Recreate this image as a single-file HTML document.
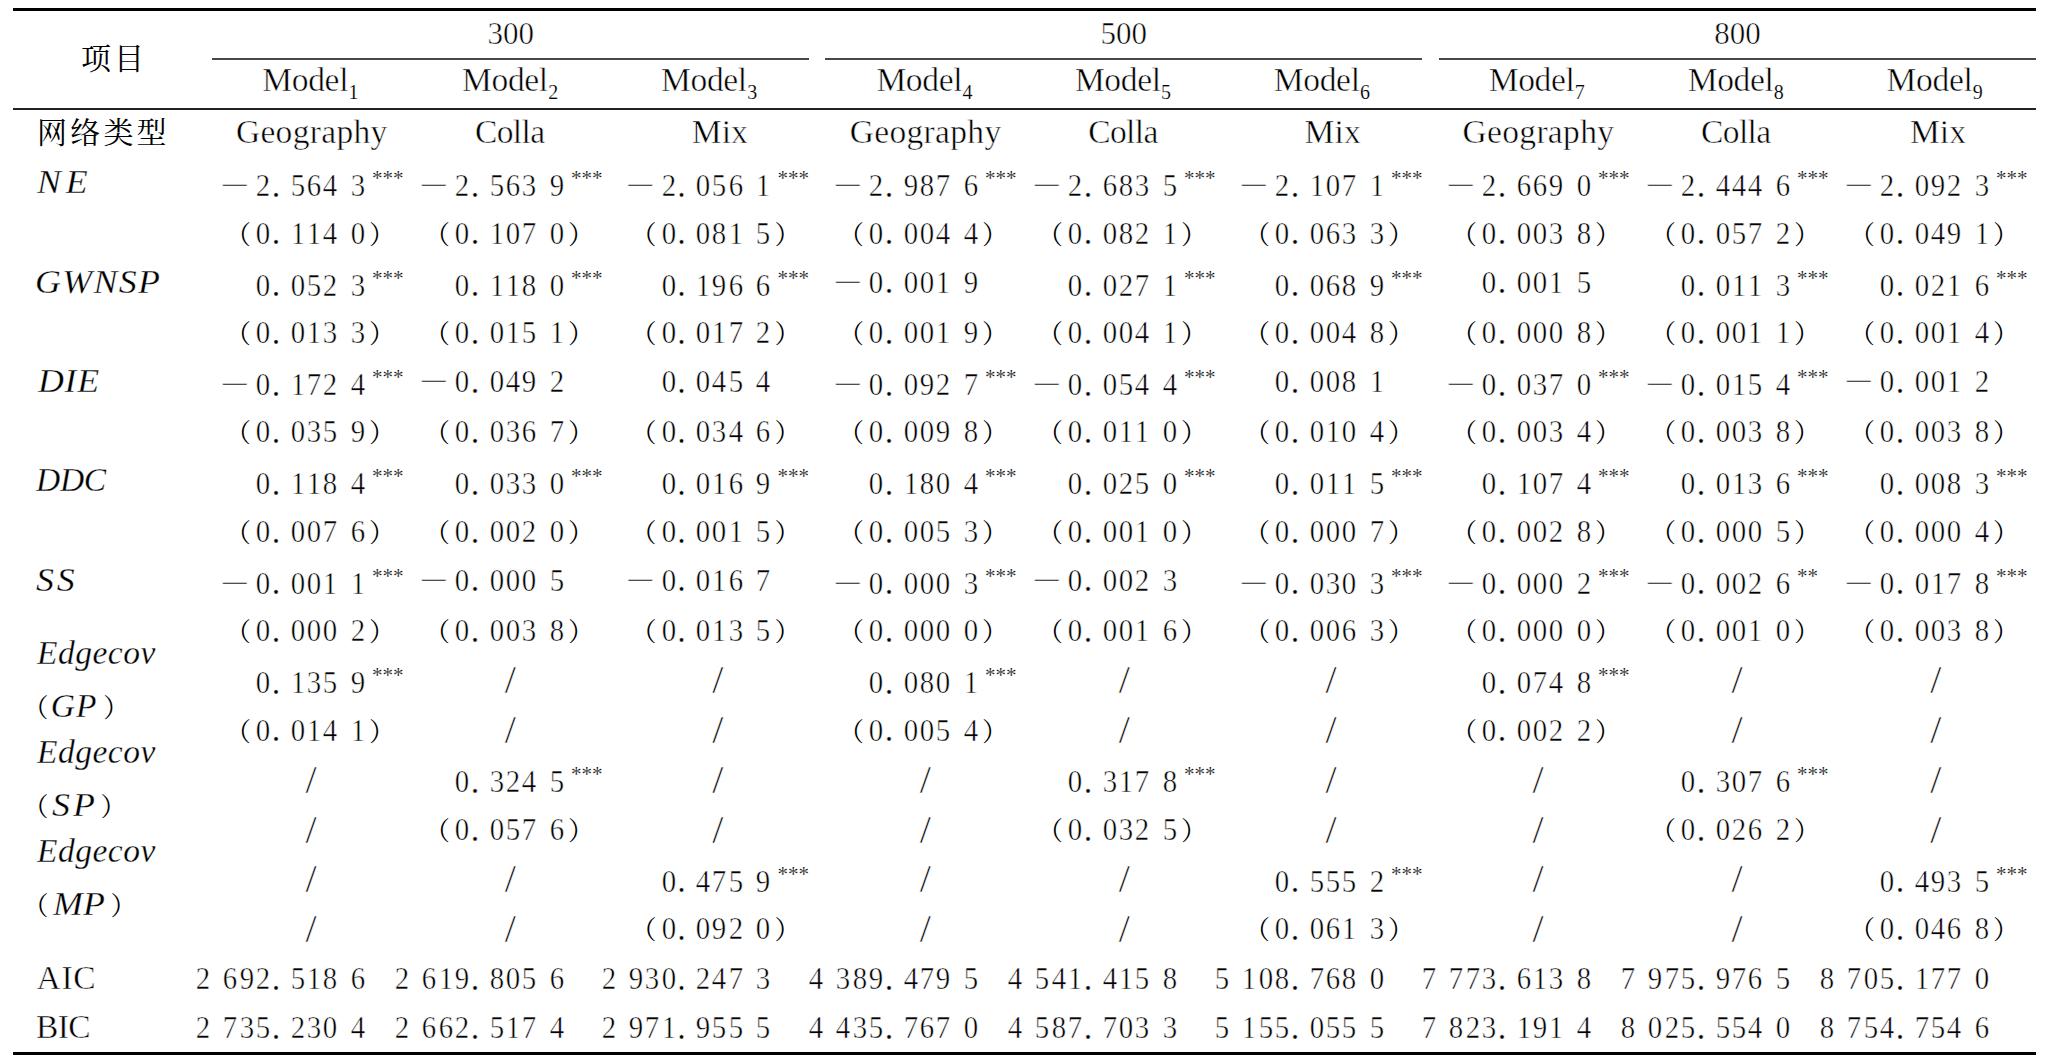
<!DOCTYPE html>
<html lang="zh"><head><meta charset="utf-8"><title>table</title><style>
*{margin:0;padding:0}
html,body{width:2048px;height:1056px;background:#fff;overflow:hidden}
body{position:relative;color:#000}
.r{position:absolute}
.t{position:absolute;font:32px/40px 'Liberation Serif','Noto Serif CJK SC',serif;white-space:nowrap;-webkit-text-stroke:0.5px #fff}
.cj{-webkit-text-stroke:0}
.w{font-size:33.5px}
.t i{-webkit-text-stroke:0.3px #fff;font-size:33.5px}
.st,.sb{-webkit-text-stroke:0.15px #fff}
.op,.cp,.op2{-webkit-text-stroke:0}
.t i{font-style:italic;display:inline-block;transform-origin:0 0}
.cj{font:30px/0 'Noto Serif CJK SC',serif;letter-spacing:2px}
.sb{font-size:20px;line-height:0;vertical-align:-8px;margin-left:0.3px}
.n{letter-spacing:0.4px}
.n .ip{display:inline-block;width:120px;text-align:right}
.n .p{letter-spacing:9px;font-size:36px;vertical-align:-0.7px}
.n b{display:inline-block;font-weight:normal;transform:scaleX(0.9)}
.n .g{letter-spacing:2.8px}
.n .m{font:32px/0 'Noto Serif CJK SC',serif;letter-spacing:4.3px;vertical-align:-1px}
.n .op{font:26px/0 'Noto Serif CJK SC',serif;letter-spacing:4.1px}
.n .cp{font:26px/0 'Noto Serif CJK SC',serif;margin-left:3px}
.n .st{font-size:21px;line-height:0;vertical-align:11px;margin-left:6px;letter-spacing:0}
.op2{font:26px/0 'Noto Serif CJK SC',serif}
.sl{font-size:40px;line-height:0}
</style></head><body>
<div class="r" style="left:13px;top:8px;width:2023px;height:3px;background:#000"></div>
<div class="r" style="left:212px;top:58px;width:597px;height:2px;background:#484848"></div>
<div class="r" style="left:825px;top:58px;width:597px;height:2px;background:#484848"></div>
<div class="r" style="left:1439px;top:58px;width:597px;height:2px;background:#484848"></div>
<div class="r" style="left:13px;top:108px;width:2023px;height:2px;background:#222"></div>
<div class="r" style="left:13px;top:1052px;width:2023px;height:3px;background:#000"></div>
<div class="t" style="left:81.0px;top:38.2px;"><span class="cj" style="letter-spacing:3px">项目</span></div>
<div class="t" style="left:487.4px;top:13.0px;"><span style="font-size:31px">300</span></div>
<div class="t" style="left:1100.5px;top:13.0px;"><span style="font-size:31px">500</span></div>
<div class="t" style="left:1714.3px;top:13.0px;"><span style="font-size:31px">800</span></div>
<div class="t" style="left:262.3px;top:59.9px;"><span class="w" style="letter-spacing:-0.33px">Model</span><span class="sb">1</span></div>
<div class="t" style="left:462.0px;top:59.9px;"><span class="w" style="letter-spacing:-0.33px">Model</span><span class="sb">2</span></div>
<div class="t" style="left:661.0px;top:59.9px;"><span class="w" style="letter-spacing:-0.33px">Model</span><span class="sb">3</span></div>
<div class="t" style="left:876.4px;top:59.9px;"><span class="w" style="letter-spacing:-0.33px">Model</span><span class="sb">4</span></div>
<div class="t" style="left:1074.9px;top:59.9px;"><span class="w" style="letter-spacing:-0.33px">Model</span><span class="sb">5</span></div>
<div class="t" style="left:1273.8px;top:59.9px;"><span class="w" style="letter-spacing:-0.33px">Model</span><span class="sb">6</span></div>
<div class="t" style="left:1488.7px;top:59.9px;"><span class="w" style="letter-spacing:-0.33px">Model</span><span class="sb">7</span></div>
<div class="t" style="left:1687.7px;top:59.9px;"><span class="w" style="letter-spacing:-0.33px">Model</span><span class="sb">8</span></div>
<div class="t" style="left:1886.6px;top:59.9px;"><span class="w" style="letter-spacing:-0.33px">Model</span><span class="sb">9</span></div>
<div class="t" style="left:37.0px;top:112.2px;"><span class="cj" style="letter-spacing:3.2px">网络类型</span></div>
<div class="t" style="left:235.9px;top:112.2px;"><span class="w" style="letter-spacing:0.33px">Geography</span></div>
<div class="t" style="left:849.7px;top:112.2px;"><span class="w" style="letter-spacing:0.33px">Geography</span></div>
<div class="t" style="left:1462.5px;top:112.2px;"><span class="w" style="letter-spacing:0.33px">Geography</span></div>
<div class="t" style="left:474.9px;top:112.2px;"><span class="w" style="letter-spacing:-0.6px">Colla</span></div>
<div class="t" style="left:1088.2px;top:112.2px;"><span class="w" style="letter-spacing:-0.6px">Colla</span></div>
<div class="t" style="left:1701.0px;top:112.2px;"><span class="w" style="letter-spacing:-0.6px">Colla</span></div>
<div class="t" style="left:691.8px;top:112.2px;"><span class="w" style="letter-spacing:0.1px">Mix</span></div>
<div class="t" style="left:1304.6px;top:112.2px;"><span class="w" style="letter-spacing:0.1px">Mix</span></div>
<div class="t" style="left:1909.9px;top:112.2px;"><span class="w" style="letter-spacing:0.1px">Mix</span></div>
<div class="t" style="left:36.5px;top:162.1px;"><i style="letter-spacing:4.5px;transform:scaleX(1.07)">NE</i></div>
<div class="t n" style="left:151.5px;top:165.0px;"><span class="ip"><span class="m">－</span><b>2</b></span><span class="p">.</span><b>5</b><b>6</b><b>4</b><span class="g"> </span><b>3</b><span class="st">***</span></div>
<div class="t n" style="left:151.5px;top:212.3px;"><span class="ip"><span class="op">（</span><b>0</b></span><span class="p">.</span><b>1</b><b>1</b><b>4</b><span class="g"> </span><b>0</b><span class="cp">）</span></div>
<div class="t n" style="left:350.5px;top:165.0px;"><span class="ip"><span class="m">－</span><b>2</b></span><span class="p">.</span><b>5</b><b>6</b><b>3</b><span class="g"> </span><b>9</b><span class="st">***</span></div>
<div class="t n" style="left:350.5px;top:212.3px;"><span class="ip"><span class="op">（</span><b>0</b></span><span class="p">.</span><b>1</b><b>0</b><b>7</b><span class="g"> </span><b>0</b><span class="cp">）</span></div>
<div class="t n" style="left:557.0px;top:165.0px;"><span class="ip"><span class="m">－</span><b>2</b></span><span class="p">.</span><b>0</b><b>5</b><b>6</b><span class="g"> </span><b>1</b><span class="st">***</span></div>
<div class="t n" style="left:557.0px;top:212.3px;"><span class="ip"><span class="op">（</span><b>0</b></span><span class="p">.</span><b>0</b><b>8</b><b>1</b><span class="g"> </span><b>5</b><span class="cp">）</span></div>
<div class="t n" style="left:764.5px;top:165.0px;"><span class="ip"><span class="m">－</span><b>2</b></span><span class="p">.</span><b>9</b><b>8</b><b>7</b><span class="g"> </span><b>6</b><span class="st">***</span></div>
<div class="t n" style="left:764.5px;top:212.3px;"><span class="ip"><span class="op">（</span><b>0</b></span><span class="p">.</span><b>0</b><b>0</b><b>4</b><span class="g"> </span><b>4</b><span class="cp">）</span></div>
<div class="t n" style="left:963.5px;top:165.0px;"><span class="ip"><span class="m">－</span><b>2</b></span><span class="p">.</span><b>6</b><b>8</b><b>3</b><span class="g"> </span><b>5</b><span class="st">***</span></div>
<div class="t n" style="left:963.5px;top:212.3px;"><span class="ip"><span class="op">（</span><b>0</b></span><span class="p">.</span><b>0</b><b>8</b><b>2</b><span class="g"> </span><b>1</b><span class="cp">）</span></div>
<div class="t n" style="left:1170.5px;top:165.0px;"><span class="ip"><span class="m">－</span><b>2</b></span><span class="p">.</span><b>1</b><b>0</b><b>7</b><span class="g"> </span><b>1</b><span class="st">***</span></div>
<div class="t n" style="left:1170.5px;top:212.3px;"><span class="ip"><span class="op">（</span><b>0</b></span><span class="p">.</span><b>0</b><b>6</b><b>3</b><span class="g"> </span><b>3</b><span class="cp">）</span></div>
<div class="t n" style="left:1377.5px;top:165.0px;"><span class="ip"><span class="m">－</span><b>2</b></span><span class="p">.</span><b>6</b><b>6</b><b>9</b><span class="g"> </span><b>0</b><span class="st">***</span></div>
<div class="t n" style="left:1377.5px;top:212.3px;"><span class="ip"><span class="op">（</span><b>0</b></span><span class="p">.</span><b>0</b><b>0</b><b>3</b><span class="g"> </span><b>8</b><span class="cp">）</span></div>
<div class="t n" style="left:1576.5px;top:165.0px;"><span class="ip"><span class="m">－</span><b>2</b></span><span class="p">.</span><b>4</b><b>4</b><b>4</b><span class="g"> </span><b>6</b><span class="st">***</span></div>
<div class="t n" style="left:1576.5px;top:212.3px;"><span class="ip"><span class="op">（</span><b>0</b></span><span class="p">.</span><b>0</b><b>5</b><b>7</b><span class="g"> </span><b>2</b><span class="cp">）</span></div>
<div class="t n" style="left:1775.5px;top:165.0px;"><span class="ip"><span class="m">－</span><b>2</b></span><span class="p">.</span><b>0</b><b>9</b><b>2</b><span class="g"> </span><b>3</b><span class="st">***</span></div>
<div class="t n" style="left:1775.5px;top:212.3px;"><span class="ip"><span class="op">（</span><b>0</b></span><span class="p">.</span><b>0</b><b>4</b><b>9</b><span class="g"> </span><b>1</b><span class="cp">）</span></div>
<div class="t" style="left:34.5px;top:261.5px;"><i style="letter-spacing:1.28px;transform:scaleX(1.07)">GWNSP</i></div>
<div class="t n" style="left:151.5px;top:264.3px;"><span class="ip"><b>0</b></span><span class="p">.</span><b>0</b><b>5</b><b>2</b><span class="g"> </span><b>3</b><span class="st">***</span></div>
<div class="t n" style="left:151.5px;top:311.7px;"><span class="ip"><span class="op">（</span><b>0</b></span><span class="p">.</span><b>0</b><b>1</b><b>3</b><span class="g"> </span><b>3</b><span class="cp">）</span></div>
<div class="t n" style="left:350.5px;top:264.3px;"><span class="ip"><b>0</b></span><span class="p">.</span><b>1</b><b>1</b><b>8</b><span class="g"> </span><b>0</b><span class="st">***</span></div>
<div class="t n" style="left:350.5px;top:311.7px;"><span class="ip"><span class="op">（</span><b>0</b></span><span class="p">.</span><b>0</b><b>1</b><b>5</b><span class="g"> </span><b>1</b><span class="cp">）</span></div>
<div class="t n" style="left:557.0px;top:264.3px;"><span class="ip"><b>0</b></span><span class="p">.</span><b>1</b><b>9</b><b>6</b><span class="g"> </span><b>6</b><span class="st">***</span></div>
<div class="t n" style="left:557.0px;top:311.7px;"><span class="ip"><span class="op">（</span><b>0</b></span><span class="p">.</span><b>0</b><b>1</b><b>7</b><span class="g"> </span><b>2</b><span class="cp">）</span></div>
<div class="t n" style="left:764.5px;top:261.3px;"><span class="ip"><span class="m">－</span><b>0</b></span><span class="p">.</span><b>0</b><b>0</b><b>1</b><span class="g"> </span><b>9</b></div>
<div class="t n" style="left:764.5px;top:311.7px;"><span class="ip"><span class="op">（</span><b>0</b></span><span class="p">.</span><b>0</b><b>0</b><b>1</b><span class="g"> </span><b>9</b><span class="cp">）</span></div>
<div class="t n" style="left:963.5px;top:264.3px;"><span class="ip"><b>0</b></span><span class="p">.</span><b>0</b><b>2</b><b>7</b><span class="g"> </span><b>1</b><span class="st">***</span></div>
<div class="t n" style="left:963.5px;top:311.7px;"><span class="ip"><span class="op">（</span><b>0</b></span><span class="p">.</span><b>0</b><b>0</b><b>4</b><span class="g"> </span><b>1</b><span class="cp">）</span></div>
<div class="t n" style="left:1170.5px;top:264.3px;"><span class="ip"><b>0</b></span><span class="p">.</span><b>0</b><b>6</b><b>8</b><span class="g"> </span><b>9</b><span class="st">***</span></div>
<div class="t n" style="left:1170.5px;top:311.7px;"><span class="ip"><span class="op">（</span><b>0</b></span><span class="p">.</span><b>0</b><b>0</b><b>4</b><span class="g"> </span><b>8</b><span class="cp">）</span></div>
<div class="t n" style="left:1377.5px;top:261.3px;"><span class="ip"><b>0</b></span><span class="p">.</span><b>0</b><b>0</b><b>1</b><span class="g"> </span><b>5</b></div>
<div class="t n" style="left:1377.5px;top:311.7px;"><span class="ip"><span class="op">（</span><b>0</b></span><span class="p">.</span><b>0</b><b>0</b><b>0</b><span class="g"> </span><b>8</b><span class="cp">）</span></div>
<div class="t n" style="left:1576.5px;top:264.3px;"><span class="ip"><b>0</b></span><span class="p">.</span><b>0</b><b>1</b><b>1</b><span class="g"> </span><b>3</b><span class="st">***</span></div>
<div class="t n" style="left:1576.5px;top:311.7px;"><span class="ip"><span class="op">（</span><b>0</b></span><span class="p">.</span><b>0</b><b>0</b><b>1</b><span class="g"> </span><b>1</b><span class="cp">）</span></div>
<div class="t n" style="left:1775.5px;top:264.3px;"><span class="ip"><b>0</b></span><span class="p">.</span><b>0</b><b>2</b><b>1</b><span class="g"> </span><b>6</b><span class="st">***</span></div>
<div class="t n" style="left:1775.5px;top:311.7px;"><span class="ip"><span class="op">（</span><b>0</b></span><span class="p">.</span><b>0</b><b>0</b><b>1</b><span class="g"> </span><b>4</b><span class="cp">）</span></div>
<div class="t" style="left:38.0px;top:360.9px;"><i style="letter-spacing:0.65px;transform:scaleX(1.07)">DIE</i></div>
<div class="t n" style="left:151.5px;top:363.7px;"><span class="ip"><span class="m">－</span><b>0</b></span><span class="p">.</span><b>1</b><b>7</b><b>2</b><span class="g"> </span><b>4</b><span class="st">***</span></div>
<div class="t n" style="left:151.5px;top:411.1px;"><span class="ip"><span class="op">（</span><b>0</b></span><span class="p">.</span><b>0</b><b>3</b><b>5</b><span class="g"> </span><b>9</b><span class="cp">）</span></div>
<div class="t n" style="left:350.5px;top:360.7px;"><span class="ip"><span class="m">－</span><b>0</b></span><span class="p">.</span><b>0</b><b>4</b><b>9</b><span class="g"> </span><b>2</b></div>
<div class="t n" style="left:350.5px;top:411.1px;"><span class="ip"><span class="op">（</span><b>0</b></span><span class="p">.</span><b>0</b><b>3</b><b>6</b><span class="g"> </span><b>7</b><span class="cp">）</span></div>
<div class="t n" style="left:557.0px;top:360.7px;"><span class="ip"><b>0</b></span><span class="p">.</span><b>0</b><b>4</b><b>5</b><span class="g"> </span><b>4</b></div>
<div class="t n" style="left:557.0px;top:411.1px;"><span class="ip"><span class="op">（</span><b>0</b></span><span class="p">.</span><b>0</b><b>3</b><b>4</b><span class="g"> </span><b>6</b><span class="cp">）</span></div>
<div class="t n" style="left:764.5px;top:363.7px;"><span class="ip"><span class="m">－</span><b>0</b></span><span class="p">.</span><b>0</b><b>9</b><b>2</b><span class="g"> </span><b>7</b><span class="st">***</span></div>
<div class="t n" style="left:764.5px;top:411.1px;"><span class="ip"><span class="op">（</span><b>0</b></span><span class="p">.</span><b>0</b><b>0</b><b>9</b><span class="g"> </span><b>8</b><span class="cp">）</span></div>
<div class="t n" style="left:963.5px;top:363.7px;"><span class="ip"><span class="m">－</span><b>0</b></span><span class="p">.</span><b>0</b><b>5</b><b>4</b><span class="g"> </span><b>4</b><span class="st">***</span></div>
<div class="t n" style="left:963.5px;top:411.1px;"><span class="ip"><span class="op">（</span><b>0</b></span><span class="p">.</span><b>0</b><b>1</b><b>1</b><span class="g"> </span><b>0</b><span class="cp">）</span></div>
<div class="t n" style="left:1170.5px;top:360.7px;"><span class="ip"><b>0</b></span><span class="p">.</span><b>0</b><b>0</b><b>8</b><span class="g"> </span><b>1</b></div>
<div class="t n" style="left:1170.5px;top:411.1px;"><span class="ip"><span class="op">（</span><b>0</b></span><span class="p">.</span><b>0</b><b>1</b><b>0</b><span class="g"> </span><b>4</b><span class="cp">）</span></div>
<div class="t n" style="left:1377.5px;top:363.7px;"><span class="ip"><span class="m">－</span><b>0</b></span><span class="p">.</span><b>0</b><b>3</b><b>7</b><span class="g"> </span><b>0</b><span class="st">***</span></div>
<div class="t n" style="left:1377.5px;top:411.1px;"><span class="ip"><span class="op">（</span><b>0</b></span><span class="p">.</span><b>0</b><b>0</b><b>3</b><span class="g"> </span><b>4</b><span class="cp">）</span></div>
<div class="t n" style="left:1576.5px;top:363.7px;"><span class="ip"><span class="m">－</span><b>0</b></span><span class="p">.</span><b>0</b><b>1</b><b>5</b><span class="g"> </span><b>4</b><span class="st">***</span></div>
<div class="t n" style="left:1576.5px;top:411.1px;"><span class="ip"><span class="op">（</span><b>0</b></span><span class="p">.</span><b>0</b><b>0</b><b>3</b><span class="g"> </span><b>8</b><span class="cp">）</span></div>
<div class="t n" style="left:1775.5px;top:360.7px;"><span class="ip"><span class="m">－</span><b>0</b></span><span class="p">.</span><b>0</b><b>0</b><b>1</b><span class="g"> </span><b>2</b></div>
<div class="t n" style="left:1775.5px;top:411.1px;"><span class="ip"><span class="op">（</span><b>0</b></span><span class="p">.</span><b>0</b><b>0</b><b>3</b><span class="g"> </span><b>8</b><span class="cp">）</span></div>
<div class="t" style="left:36.1px;top:460.3px;"><i style="letter-spacing:-0.35px;transform:scaleX(1)">DDC</i></div>
<div class="t n" style="left:151.5px;top:463.0px;"><span class="ip"><b>0</b></span><span class="p">.</span><b>1</b><b>1</b><b>8</b><span class="g"> </span><b>4</b><span class="st">***</span></div>
<div class="t n" style="left:151.5px;top:510.5px;"><span class="ip"><span class="op">（</span><b>0</b></span><span class="p">.</span><b>0</b><b>0</b><b>7</b><span class="g"> </span><b>6</b><span class="cp">）</span></div>
<div class="t n" style="left:350.5px;top:463.0px;"><span class="ip"><b>0</b></span><span class="p">.</span><b>0</b><b>3</b><b>3</b><span class="g"> </span><b>0</b><span class="st">***</span></div>
<div class="t n" style="left:350.5px;top:510.5px;"><span class="ip"><span class="op">（</span><b>0</b></span><span class="p">.</span><b>0</b><b>0</b><b>2</b><span class="g"> </span><b>0</b><span class="cp">）</span></div>
<div class="t n" style="left:557.0px;top:463.0px;"><span class="ip"><b>0</b></span><span class="p">.</span><b>0</b><b>1</b><b>6</b><span class="g"> </span><b>9</b><span class="st">***</span></div>
<div class="t n" style="left:557.0px;top:510.5px;"><span class="ip"><span class="op">（</span><b>0</b></span><span class="p">.</span><b>0</b><b>0</b><b>1</b><span class="g"> </span><b>5</b><span class="cp">）</span></div>
<div class="t n" style="left:764.5px;top:463.0px;"><span class="ip"><b>0</b></span><span class="p">.</span><b>1</b><b>8</b><b>0</b><span class="g"> </span><b>4</b><span class="st">***</span></div>
<div class="t n" style="left:764.5px;top:510.5px;"><span class="ip"><span class="op">（</span><b>0</b></span><span class="p">.</span><b>0</b><b>0</b><b>5</b><span class="g"> </span><b>3</b><span class="cp">）</span></div>
<div class="t n" style="left:963.5px;top:463.0px;"><span class="ip"><b>0</b></span><span class="p">.</span><b>0</b><b>2</b><b>5</b><span class="g"> </span><b>0</b><span class="st">***</span></div>
<div class="t n" style="left:963.5px;top:510.5px;"><span class="ip"><span class="op">（</span><b>0</b></span><span class="p">.</span><b>0</b><b>0</b><b>1</b><span class="g"> </span><b>0</b><span class="cp">）</span></div>
<div class="t n" style="left:1170.5px;top:463.0px;"><span class="ip"><b>0</b></span><span class="p">.</span><b>0</b><b>1</b><b>1</b><span class="g"> </span><b>5</b><span class="st">***</span></div>
<div class="t n" style="left:1170.5px;top:510.5px;"><span class="ip"><span class="op">（</span><b>0</b></span><span class="p">.</span><b>0</b><b>0</b><b>0</b><span class="g"> </span><b>7</b><span class="cp">）</span></div>
<div class="t n" style="left:1377.5px;top:463.0px;"><span class="ip"><b>0</b></span><span class="p">.</span><b>1</b><b>0</b><b>7</b><span class="g"> </span><b>4</b><span class="st">***</span></div>
<div class="t n" style="left:1377.5px;top:510.5px;"><span class="ip"><span class="op">（</span><b>0</b></span><span class="p">.</span><b>0</b><b>0</b><b>2</b><span class="g"> </span><b>8</b><span class="cp">）</span></div>
<div class="t n" style="left:1576.5px;top:463.0px;"><span class="ip"><b>0</b></span><span class="p">.</span><b>0</b><b>1</b><b>3</b><span class="g"> </span><b>6</b><span class="st">***</span></div>
<div class="t n" style="left:1576.5px;top:510.5px;"><span class="ip"><span class="op">（</span><b>0</b></span><span class="p">.</span><b>0</b><b>0</b><b>0</b><span class="g"> </span><b>5</b><span class="cp">）</span></div>
<div class="t n" style="left:1775.5px;top:463.0px;"><span class="ip"><b>0</b></span><span class="p">.</span><b>0</b><b>0</b><b>8</b><span class="g"> </span><b>3</b><span class="st">***</span></div>
<div class="t n" style="left:1775.5px;top:510.5px;"><span class="ip"><span class="op">（</span><b>0</b></span><span class="p">.</span><b>0</b><b>0</b><b>0</b><span class="g"> </span><b>4</b><span class="cp">）</span></div>
<div class="t" style="left:36.3px;top:559.7px;"><i style="letter-spacing:2.6px;transform:scaleX(1.07)">SS</i></div>
<div class="t n" style="left:151.5px;top:562.3px;"><span class="ip"><span class="m">－</span><b>0</b></span><span class="p">.</span><b>0</b><b>0</b><b>1</b><span class="g"> </span><b>1</b><span class="st">***</span></div>
<div class="t n" style="left:151.5px;top:609.9px;"><span class="ip"><span class="op">（</span><b>0</b></span><span class="p">.</span><b>0</b><b>0</b><b>0</b><span class="g"> </span><b>2</b><span class="cp">）</span></div>
<div class="t n" style="left:350.5px;top:559.3px;"><span class="ip"><span class="m">－</span><b>0</b></span><span class="p">.</span><b>0</b><b>0</b><b>0</b><span class="g"> </span><b>5</b></div>
<div class="t n" style="left:350.5px;top:609.9px;"><span class="ip"><span class="op">（</span><b>0</b></span><span class="p">.</span><b>0</b><b>0</b><b>3</b><span class="g"> </span><b>8</b><span class="cp">）</span></div>
<div class="t n" style="left:557.0px;top:559.3px;"><span class="ip"><span class="m">－</span><b>0</b></span><span class="p">.</span><b>0</b><b>1</b><b>6</b><span class="g"> </span><b>7</b></div>
<div class="t n" style="left:557.0px;top:609.9px;"><span class="ip"><span class="op">（</span><b>0</b></span><span class="p">.</span><b>0</b><b>1</b><b>3</b><span class="g"> </span><b>5</b><span class="cp">）</span></div>
<div class="t n" style="left:764.5px;top:562.3px;"><span class="ip"><span class="m">－</span><b>0</b></span><span class="p">.</span><b>0</b><b>0</b><b>0</b><span class="g"> </span><b>3</b><span class="st">***</span></div>
<div class="t n" style="left:764.5px;top:609.9px;"><span class="ip"><span class="op">（</span><b>0</b></span><span class="p">.</span><b>0</b><b>0</b><b>0</b><span class="g"> </span><b>0</b><span class="cp">）</span></div>
<div class="t n" style="left:963.5px;top:559.3px;"><span class="ip"><span class="m">－</span><b>0</b></span><span class="p">.</span><b>0</b><b>0</b><b>2</b><span class="g"> </span><b>3</b></div>
<div class="t n" style="left:963.5px;top:609.9px;"><span class="ip"><span class="op">（</span><b>0</b></span><span class="p">.</span><b>0</b><b>0</b><b>1</b><span class="g"> </span><b>6</b><span class="cp">）</span></div>
<div class="t n" style="left:1170.5px;top:562.3px;"><span class="ip"><span class="m">－</span><b>0</b></span><span class="p">.</span><b>0</b><b>3</b><b>0</b><span class="g"> </span><b>3</b><span class="st">***</span></div>
<div class="t n" style="left:1170.5px;top:609.9px;"><span class="ip"><span class="op">（</span><b>0</b></span><span class="p">.</span><b>0</b><b>0</b><b>6</b><span class="g"> </span><b>3</b><span class="cp">）</span></div>
<div class="t n" style="left:1377.5px;top:562.3px;"><span class="ip"><span class="m">－</span><b>0</b></span><span class="p">.</span><b>0</b><b>0</b><b>0</b><span class="g"> </span><b>2</b><span class="st">***</span></div>
<div class="t n" style="left:1377.5px;top:609.9px;"><span class="ip"><span class="op">（</span><b>0</b></span><span class="p">.</span><b>0</b><b>0</b><b>0</b><span class="g"> </span><b>0</b><span class="cp">）</span></div>
<div class="t n" style="left:1576.5px;top:562.3px;"><span class="ip"><span class="m">－</span><b>0</b></span><span class="p">.</span><b>0</b><b>0</b><b>2</b><span class="g"> </span><b>6</b><span class="st">**</span></div>
<div class="t n" style="left:1576.5px;top:609.9px;"><span class="ip"><span class="op">（</span><b>0</b></span><span class="p">.</span><b>0</b><b>0</b><b>1</b><span class="g"> </span><b>0</b><span class="cp">）</span></div>
<div class="t n" style="left:1775.5px;top:562.3px;"><span class="ip"><span class="m">－</span><b>0</b></span><span class="p">.</span><b>0</b><b>1</b><b>7</b><span class="g"> </span><b>8</b><span class="st">***</span></div>
<div class="t n" style="left:1775.5px;top:609.9px;"><span class="ip"><span class="op">（</span><b>0</b></span><span class="p">.</span><b>0</b><b>0</b><b>3</b><span class="g"> </span><b>8</b><span class="cp">）</span></div>
<div class="t n" style="left:151.5px;top:661.6px;"><span class="ip"><b>0</b></span><span class="p">.</span><b>1</b><b>3</b><b>5</b><span class="g"> </span><b>9</b><span class="st">***</span></div>
<div class="t n" style="left:151.5px;top:709.3px;"><span class="ip"><span class="op">（</span><b>0</b></span><span class="p">.</span><b>0</b><b>1</b><b>4</b><span class="g"> </span><b>1</b><span class="cp">）</span></div>
<div class="t" style="left:504.8px;top:662.2px;"><span class="sl">/</span></div>
<div class="t" style="left:504.8px;top:712.3px;"><span class="sl">/</span></div>
<div class="t" style="left:712.2px;top:662.2px;"><span class="sl">/</span></div>
<div class="t" style="left:712.2px;top:712.3px;"><span class="sl">/</span></div>
<div class="t n" style="left:764.5px;top:661.6px;"><span class="ip"><b>0</b></span><span class="p">.</span><b>0</b><b>8</b><b>0</b><span class="g"> </span><b>1</b><span class="st">***</span></div>
<div class="t n" style="left:764.5px;top:709.3px;"><span class="ip"><span class="op">（</span><b>0</b></span><span class="p">.</span><b>0</b><b>0</b><b>5</b><span class="g"> </span><b>4</b><span class="cp">）</span></div>
<div class="t" style="left:1118.7px;top:662.2px;"><span class="sl">/</span></div>
<div class="t" style="left:1118.7px;top:712.3px;"><span class="sl">/</span></div>
<div class="t" style="left:1325.4px;top:662.2px;"><span class="sl">/</span></div>
<div class="t" style="left:1325.4px;top:712.3px;"><span class="sl">/</span></div>
<div class="t n" style="left:1377.5px;top:661.6px;"><span class="ip"><b>0</b></span><span class="p">.</span><b>0</b><b>7</b><b>4</b><span class="g"> </span><b>8</b><span class="st">***</span></div>
<div class="t n" style="left:1377.5px;top:709.3px;"><span class="ip"><span class="op">（</span><b>0</b></span><span class="p">.</span><b>0</b><b>0</b><b>2</b><span class="g"> </span><b>2</b><span class="cp">）</span></div>
<div class="t" style="left:1731.5px;top:662.2px;"><span class="sl">/</span></div>
<div class="t" style="left:1731.5px;top:712.3px;"><span class="sl">/</span></div>
<div class="t" style="left:1930.3px;top:662.2px;"><span class="sl">/</span></div>
<div class="t" style="left:1930.3px;top:712.3px;"><span class="sl">/</span></div>
<div class="t" style="left:305.4px;top:761.6px;"><span class="sl">/</span></div>
<div class="t" style="left:305.4px;top:811.7px;"><span class="sl">/</span></div>
<div class="t n" style="left:350.5px;top:761.0px;"><span class="ip"><b>0</b></span><span class="p">.</span><b>3</b><b>2</b><b>4</b><span class="g"> </span><b>5</b><span class="st">***</span></div>
<div class="t n" style="left:350.5px;top:808.7px;"><span class="ip"><span class="op">（</span><b>0</b></span><span class="p">.</span><b>0</b><b>5</b><b>7</b><span class="g"> </span><b>6</b><span class="cp">）</span></div>
<div class="t" style="left:712.2px;top:761.6px;"><span class="sl">/</span></div>
<div class="t" style="left:712.2px;top:811.7px;"><span class="sl">/</span></div>
<div class="t" style="left:919.8px;top:761.6px;"><span class="sl">/</span></div>
<div class="t" style="left:919.8px;top:811.7px;"><span class="sl">/</span></div>
<div class="t n" style="left:963.5px;top:761.0px;"><span class="ip"><b>0</b></span><span class="p">.</span><b>3</b><b>1</b><b>7</b><span class="g"> </span><b>8</b><span class="st">***</span></div>
<div class="t n" style="left:963.5px;top:808.7px;"><span class="ip"><span class="op">（</span><b>0</b></span><span class="p">.</span><b>0</b><b>3</b><b>2</b><span class="g"> </span><b>5</b><span class="cp">）</span></div>
<div class="t" style="left:1325.4px;top:761.6px;"><span class="sl">/</span></div>
<div class="t" style="left:1325.4px;top:811.7px;"><span class="sl">/</span></div>
<div class="t" style="left:1532.6px;top:761.6px;"><span class="sl">/</span></div>
<div class="t" style="left:1532.6px;top:811.7px;"><span class="sl">/</span></div>
<div class="t n" style="left:1576.5px;top:761.0px;"><span class="ip"><b>0</b></span><span class="p">.</span><b>3</b><b>0</b><b>7</b><span class="g"> </span><b>6</b><span class="st">***</span></div>
<div class="t n" style="left:1576.5px;top:808.7px;"><span class="ip"><span class="op">（</span><b>0</b></span><span class="p">.</span><b>0</b><b>2</b><b>6</b><span class="g"> </span><b>2</b><span class="cp">）</span></div>
<div class="t" style="left:1930.3px;top:761.6px;"><span class="sl">/</span></div>
<div class="t" style="left:1930.3px;top:811.7px;"><span class="sl">/</span></div>
<div class="t" style="left:305.4px;top:860.9px;"><span class="sl">/</span></div>
<div class="t" style="left:305.4px;top:911.1px;"><span class="sl">/</span></div>
<div class="t" style="left:504.8px;top:860.9px;"><span class="sl">/</span></div>
<div class="t" style="left:504.8px;top:911.1px;"><span class="sl">/</span></div>
<div class="t n" style="left:557.0px;top:860.3px;"><span class="ip"><b>0</b></span><span class="p">.</span><b>4</b><b>7</b><b>5</b><span class="g"> </span><b>9</b><span class="st">***</span></div>
<div class="t n" style="left:557.0px;top:908.1px;"><span class="ip"><span class="op">（</span><b>0</b></span><span class="p">.</span><b>0</b><b>9</b><b>2</b><span class="g"> </span><b>0</b><span class="cp">）</span></div>
<div class="t" style="left:919.8px;top:860.9px;"><span class="sl">/</span></div>
<div class="t" style="left:919.8px;top:911.1px;"><span class="sl">/</span></div>
<div class="t" style="left:1118.7px;top:860.9px;"><span class="sl">/</span></div>
<div class="t" style="left:1118.7px;top:911.1px;"><span class="sl">/</span></div>
<div class="t n" style="left:1170.5px;top:860.3px;"><span class="ip"><b>0</b></span><span class="p">.</span><b>5</b><b>5</b><b>5</b><span class="g"> </span><b>2</b><span class="st">***</span></div>
<div class="t n" style="left:1170.5px;top:908.1px;"><span class="ip"><span class="op">（</span><b>0</b></span><span class="p">.</span><b>0</b><b>6</b><b>1</b><span class="g"> </span><b>3</b><span class="cp">）</span></div>
<div class="t" style="left:1532.6px;top:860.9px;"><span class="sl">/</span></div>
<div class="t" style="left:1532.6px;top:911.1px;"><span class="sl">/</span></div>
<div class="t" style="left:1731.5px;top:860.9px;"><span class="sl">/</span></div>
<div class="t" style="left:1731.5px;top:911.1px;"><span class="sl">/</span></div>
<div class="t n" style="left:1775.5px;top:860.3px;"><span class="ip"><b>0</b></span><span class="p">.</span><b>4</b><b>9</b><b>3</b><span class="g"> </span><b>5</b><span class="st">***</span></div>
<div class="t n" style="left:1775.5px;top:908.1px;"><span class="ip"><span class="op">（</span><b>0</b></span><span class="p">.</span><b>0</b><b>4</b><b>6</b><span class="g"> </span><b>8</b><span class="cp">）</span></div>
<div class="t" style="left:37.1px;top:632.6px;"><i style="letter-spacing:0.48px">Edgecov</i></div>
<div class="t" style="left:22.5px;top:685.7px;"><span class="op2">（</span></div>
<div class="t" style="left:50.7px;top:685.7px;"><i style="letter-spacing:1.1px;transform:scaleX(1)">GP</i></div>
<div class="t" style="left:103.3px;top:685.7px;"><span class="op2">）</span></div>
<div class="t" style="left:37.1px;top:732.0px;"><i style="letter-spacing:0.48px">Edgecov</i></div>
<div class="t" style="left:22.5px;top:785.0px;"><span class="op2">（</span></div>
<div class="t" style="left:52.4px;top:785.0px;"><i style="letter-spacing:2.9px;transform:scaleX(1.07)">SP</i></div>
<div class="t" style="left:100.6px;top:785.0px;"><span class="op2">）</span></div>
<div class="t" style="left:37.1px;top:831.4px;"><i style="letter-spacing:0.48px">Edgecov</i></div>
<div class="t" style="left:22.5px;top:884.2px;"><span class="op2">（</span></div>
<div class="t" style="left:53.4px;top:884.2px;"><i style="letter-spacing:0.1px;transform:scaleX(1.07)">MP</i></div>
<div class="t" style="left:110.5px;top:884.2px;"><span class="op2">）</span></div>
<div class="t" style="left:36.5px;top:958.0px;"><span class="w" style="letter-spacing:0.75px">AIC</span></div>
<div class="t" style="left:36.1px;top:1007.0px;"><span class="w" style="letter-spacing:-0.65px">BIC</span></div>
<div class="t n" style="left:151.5px;top:958.0px;"><span class="ip"><b>2</b><span class="g"> </span><b>6</b><b>9</b><b>2</b></span><span class="p">.</span><b>5</b><b>1</b><b>8</b><span class="g"> </span><b>6</b></div>
<div class="t n" style="left:151.5px;top:1007.0px;"><span class="ip"><b>2</b><span class="g"> </span><b>7</b><b>3</b><b>5</b></span><span class="p">.</span><b>2</b><b>3</b><b>0</b><span class="g"> </span><b>4</b></div>
<div class="t n" style="left:350.5px;top:958.0px;"><span class="ip"><b>2</b><span class="g"> </span><b>6</b><b>1</b><b>9</b></span><span class="p">.</span><b>8</b><b>0</b><b>5</b><span class="g"> </span><b>6</b></div>
<div class="t n" style="left:350.5px;top:1007.0px;"><span class="ip"><b>2</b><span class="g"> </span><b>6</b><b>6</b><b>2</b></span><span class="p">.</span><b>5</b><b>1</b><b>7</b><span class="g"> </span><b>4</b></div>
<div class="t n" style="left:557.0px;top:958.0px;"><span class="ip"><b>2</b><span class="g"> </span><b>9</b><b>3</b><b>0</b></span><span class="p">.</span><b>2</b><b>4</b><b>7</b><span class="g"> </span><b>3</b></div>
<div class="t n" style="left:557.0px;top:1007.0px;"><span class="ip"><b>2</b><span class="g"> </span><b>9</b><b>7</b><b>1</b></span><span class="p">.</span><b>9</b><b>5</b><b>5</b><span class="g"> </span><b>5</b></div>
<div class="t n" style="left:764.5px;top:958.0px;"><span class="ip"><b>4</b><span class="g"> </span><b>3</b><b>8</b><b>9</b></span><span class="p">.</span><b>4</b><b>7</b><b>9</b><span class="g"> </span><b>5</b></div>
<div class="t n" style="left:764.5px;top:1007.0px;"><span class="ip"><b>4</b><span class="g"> </span><b>4</b><b>3</b><b>5</b></span><span class="p">.</span><b>7</b><b>6</b><b>7</b><span class="g"> </span><b>0</b></div>
<div class="t n" style="left:963.5px;top:958.0px;"><span class="ip"><b>4</b><span class="g"> </span><b>5</b><b>4</b><b>1</b></span><span class="p">.</span><b>4</b><b>1</b><b>5</b><span class="g"> </span><b>8</b></div>
<div class="t n" style="left:963.5px;top:1007.0px;"><span class="ip"><b>4</b><span class="g"> </span><b>5</b><b>8</b><b>7</b></span><span class="p">.</span><b>7</b><b>0</b><b>3</b><span class="g"> </span><b>3</b></div>
<div class="t n" style="left:1170.5px;top:958.0px;"><span class="ip"><b>5</b><span class="g"> </span><b>1</b><b>0</b><b>8</b></span><span class="p">.</span><b>7</b><b>6</b><b>8</b><span class="g"> </span><b>0</b></div>
<div class="t n" style="left:1170.5px;top:1007.0px;"><span class="ip"><b>5</b><span class="g"> </span><b>1</b><b>5</b><b>5</b></span><span class="p">.</span><b>0</b><b>5</b><b>5</b><span class="g"> </span><b>5</b></div>
<div class="t n" style="left:1377.5px;top:958.0px;"><span class="ip"><b>7</b><span class="g"> </span><b>7</b><b>7</b><b>3</b></span><span class="p">.</span><b>6</b><b>1</b><b>3</b><span class="g"> </span><b>8</b></div>
<div class="t n" style="left:1377.5px;top:1007.0px;"><span class="ip"><b>7</b><span class="g"> </span><b>8</b><b>2</b><b>3</b></span><span class="p">.</span><b>1</b><b>9</b><b>1</b><span class="g"> </span><b>4</b></div>
<div class="t n" style="left:1576.5px;top:958.0px;"><span class="ip"><b>7</b><span class="g"> </span><b>9</b><b>7</b><b>5</b></span><span class="p">.</span><b>9</b><b>7</b><b>6</b><span class="g"> </span><b>5</b></div>
<div class="t n" style="left:1576.5px;top:1007.0px;"><span class="ip"><b>8</b><span class="g"> </span><b>0</b><b>2</b><b>5</b></span><span class="p">.</span><b>5</b><b>5</b><b>4</b><span class="g"> </span><b>0</b></div>
<div class="t n" style="left:1775.5px;top:958.0px;"><span class="ip"><b>8</b><span class="g"> </span><b>7</b><b>0</b><b>5</b></span><span class="p">.</span><b>1</b><b>7</b><b>7</b><span class="g"> </span><b>0</b></div>
<div class="t n" style="left:1775.5px;top:1007.0px;"><span class="ip"><b>8</b><span class="g"> </span><b>7</b><b>5</b><b>4</b></span><span class="p">.</span><b>7</b><b>5</b><b>4</b><span class="g"> </span><b>6</b></div>
</body></html>
